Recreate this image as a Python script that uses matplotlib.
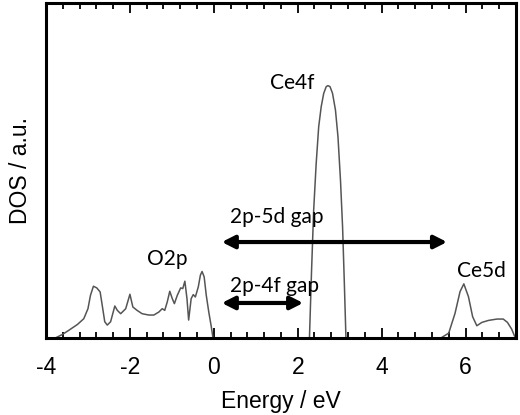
import matplotlib
matplotlib.use("Agg")
from matplotlib import pyplot as plt
from matplotlib.ticker import MultipleLocator

plt.rcParams["font.family"] = ["Liberation Sans", "DejaVu Sans"]
plt.rcParams["axes.unicode_minus"] = False

# O 2p valence band
o2p_e = [-3.77, -3.61, -3.45, -3.25, -3.1, -3.0, -2.94, -2.87, -2.79, -2.71,
         -2.66, -2.6, -2.54, -2.46, -2.36, -2.3, -2.22, -2.1, -2.0, -1.93,
         -1.83, -1.71, -1.55, -1.43, -1.31, -1.23, -1.17, -1.11, -1.05, -0.99,
         -0.94, -0.87, -0.79, -0.74, -0.69, -0.64, -0.6, -0.54, -0.49, -0.44,
         -0.37, -0.32, -0.28, -0.23, -0.18, -0.12, -0.06, -0.02]
o2p_dos = [0.0, 0.01, 0.023, 0.04, 0.057, 0.087, 0.127, 0.154, 0.149, 0.137,
           0.097, 0.048, 0.038, 0.048, 0.095, 0.082, 0.072, 0.087, 0.13, 0.092,
           0.082, 0.072, 0.068, 0.068, 0.077, 0.087, 0.082, 0.107, 0.139, 0.117,
           0.102, 0.127, 0.149, 0.147, 0.169, 0.117, 0.053, 0.117, 0.129, 0.122,
           0.152, 0.187, 0.198, 0.182, 0.127, 0.077, 0.033, 0.0]

# Ce 4f band
ce4f_e = [2.28, 2.33, 2.38, 2.44, 2.5, 2.56, 2.62, 2.68, 2.72, 2.77, 2.83,
          2.9, 2.96, 3.02, 3.07, 3.11, 3.15]
ce4f_dos = [0.0, 0.2, 0.38, 0.52, 0.63, 0.69, 0.73, 0.75, 0.753, 0.75, 0.73,
            0.68, 0.6, 0.47, 0.33, 0.17, 0.0]

# Ce 5d band
ce5d_e = [5.42, 5.6, 5.75, 5.87, 5.96, 6.07, 6.17, 6.27, 6.39, 6.55, 6.75,
          6.9, 7.0, 7.1, 7.17]
ce5d_dos = [0.0, 0.014, 0.073, 0.138, 0.161, 0.123, 0.063, 0.036, 0.046,
            0.052, 0.056, 0.056, 0.046, 0.026, 0.005]

fig = plt.figure(figsize=(5.2, 4.15), dpi=100)
ax = fig.add_axes([0.0885, 0.186, 0.9035, 0.807])

for e, d in [(o2p_e, o2p_dos), (ce4f_e, ce4f_dos), (ce5d_e, ce5d_dos)]:
    ax.plot(e, d, color="#555555", lw=1.1)

ax.set_xlim(-4, 7.2)
ax.set_ylim(0, 1)

# gap arrows
arrow = dict(arrowstyle="<|-|>,head_length=0.75,head_width=0.38", lw=3,
             color="black", shrinkA=0, shrinkB=0)
ax.annotate("", xy=(5.56, 0.286), xytext=(0.19, 0.286), arrowprops=arrow)
ax.annotate("", xy=(2.13, 0.104), xytext=(0.19, 0.104), arrowprops=arrow)

lab = dict(family=["Lato", "DejaVu Sans"], fontsize=15, color="black")
ax.text(0.38, 0.36, "2p-5d gap", ha="left", va="center", **lab)
ax.text(0.38, 0.155, "2p-4f gap", ha="left", va="center", **lab)
ax.text(-1.12, 0.235, "O2p", ha="center", va="center", **lab)
ax.text(1.88, 0.76, "Ce4f", ha="center", va="center", **lab)
ax.text(6.38, 0.2, "Ce5d", ha="center", va="center", **lab)

for s in ax.spines.values():
    s.set_linewidth(2.2)

ax.xaxis.set_major_locator(MultipleLocator(2))
ax.xaxis.set_minor_locator(MultipleLocator(0.4))
ax.tick_params(axis="x", which="both", direction="in", top=True, bottom=True,
               width=1.3, labelsize=16.5, pad=13)
ax.tick_params(axis="x", which="major", length=7)
ax.tick_params(axis="x", which="minor", length=4.5)
ax.set_yticks([])

ax.set_xlabel("Energy / eV", fontsize=16.5, labelpad=8)
ax.set_ylabel("DOS / a.u.", fontsize=16.5, labelpad=10)

fig.savefig("out.png", dpi=100)
